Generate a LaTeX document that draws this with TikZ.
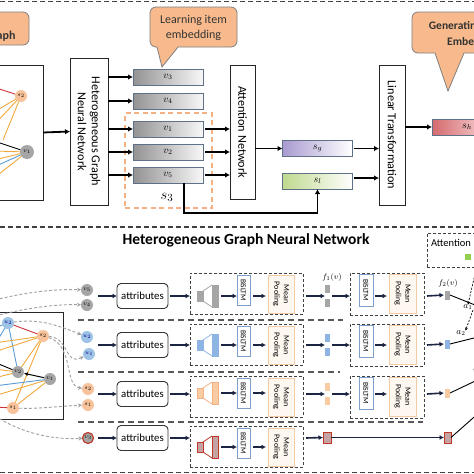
\documentclass[tikz,border=0pt]{standalone}
\usepackage{fontspec}
\setmainfont{Carlito}
\usetikzlibrary{arrows.meta}
\definecolor{callfill}{HTML}{F8BA8C}
\definecolor{callbord}{HTML}{7F7F7F}
\definecolor{odash}{HTML}{F4B183}
\definecolor{navy}{HTML}{1B2440}
\definecolor{gnode}{HTML}{A6A6A6}
\definecolor{onode}{HTML}{F8C39B}
\definecolor{bnode}{HTML}{9DC3E6}
\definecolor{redb}{HTML}{C0392B}
\definecolor{bisb}{HTML}{7C9FCB}
\definecolor{mpb}{HTML}{F4CBA5}
\definecolor{mpf}{HTML}{FFF8F1}
\definecolor{barb}{HTML}{5F7186}
\definecolor{eorange}{HTML}{F2A93B}
\definecolor{eblue}{HTML}{5B9BD5}
\definecolor{ered}{HTML}{D0343A}
\definecolor{sgl}{HTML}{A99AD0}
\definecolor{sll}{HTML}{BFD98E}
\definecolor{shl}{HTML}{D46A6E}
\definecolor{funf1}{HTML}{A6A6A6}
\definecolor{fune1}{HTML}{A6A6A6}
\definecolor{funf2}{HTML}{8EB4E3}
\definecolor{fune2}{HTML}{8EB4E3}
\definecolor{funf3}{HTML}{F8CBA2}
\definecolor{fune3}{HTML}{F4B183}
\definecolor{funf4}{HTML}{C4A4A2}
\definecolor{fune4}{HTML}{C0392B}
\definecolor{legg}{HTML}{92D050}
\definecolor{dgray}{HTML}{404040}
\definecolor{curvec}{HTML}{A0A0A0}
\begin{document}
\begin{tikzpicture}[x=1pt,y=-1pt,
  every node/.style={inner sep=0pt, outer sep=0pt},
  arr/.style={line width=1.8pt,-{Latex[length=5pt,width=5.5pt]}},
  narr/.style={navy,line width=1.6pt,-{Latex[length=4.5pt,width=5pt]}},
  callout/.style={fill=callfill,draw=callbord,line width=0.8pt},
  calltext/.style={text=black!80,align=center,font=\fontsize{12}{15}\selectfont},
  bar/.style={draw=barb,line width=0.6pt,minimum width=70pt,minimum height=16pt,font=\fontsize{10}{10}\selectfont},
  graybar/.style={bar,left color=gray!85,right color=gray!6},
  vbox/.style={draw=black!85,line width=0.8pt,fill=white,rotate=-90,align=center,font=\fontsize{12.2}{14}\selectfont},
  gnd/.style={circle,minimum size=12pt,font=\fontsize{6.5}{6.5}\selectfont},
  mainsep/.style={dgray,line width=1.6pt,dash pattern=on 5pt off 3pt},
  rowsep/.style={black!65,line width=1.3pt,dash pattern=on 6pt off 4pt},
  modbox/.style={draw=dgray,line width=0.8pt,dash pattern=on 3pt off 2pt},
  bisbox/.style={draw=bisb,line width=0.8pt,fill=white,rotate=-90,minimum height=13pt,font=\fontsize{7.5}{8}\selectfont},
  mpbox/.style={draw=mpb,line width=0.8pt,fill=mpf,rotate=-90,align=center,font=\fontsize{8}{9.5}\selectfont},
  attr/.style={draw=black!80,line width=0.9pt,rounded corners=4pt,minimum width=51pt,minimum height=25pt,font=\fontsize{10.8}{12}\selectfont},
  dcurve/.style={curvec,line width=0.9pt,dash pattern=on 3pt off 2pt,-{Stealth[length=4pt,width=4pt]}},
  gedge/.style={line width=0.9pt}
]
\useasboundingbox (0,0) rectangle (474,474);
\clip (0,0) rectangle (474,474);
\fill[white] (0,0) rectangle (474,474);

% panel separators
\draw[mainsep] (0,1.5) -- (474,1.5);
\draw[mainsep] (0,227) -- (474,227);
\draw[mainsep] (0,472.5) -- (474,472.5);

% ================= TOP PANEL =================
% left callout
\draw[callout,rounded corners=6pt] (-60,12) rectangle (29,45);
\node[calltext,anchor=east,font=\fontsize{12}{15}\selectfont\bfseries] (cl) at (15.5,36) {Graph};

% learning item callout
\draw[callout] (157,47) -- (162,67) -- (178,47) [rounded corners=6pt] -- (237,47) -- (237,7) -- (150,7) -- (150,47) [sharp corners] -- cycle;
\node[calltext] (cm) at (193.5,28) {Learning item\\embedding};

% generating callout
\draw[callout] (435,53) -- (448,91) -- (464,53) [rounded corners=6pt] -- (540,53) -- (540,12) -- (412,12) -- (412,53) [sharp corners] -- cycle;
\node[calltext,font=\fontsize{11.5}{16}\selectfont\bfseries] (cr) at (474,34) {Generating session\\Embedding};

% graph box (top)
\node[draw=black!85,line width=0.8pt,minimum width=93pt,minimum height=135pt] (gtop) at (-3.5,132.5) {};
\node[gnd,fill=onode] (ts2) at (21,96) {$s_2$};
\node[gnd,fill=gnode,minimum size=14pt] (tv1) at (27,152) {$v_1$};
\coordinate (ta) at (-10,86);
\coordinate (tb) at (-6,112);
\coordinate (tc) at (-6,125);
\coordinate (td) at (3,140);
\coordinate (te) at (-6,141);
\coordinate (tf) at (-6,151);
\coordinate (tg) at (-6,160);
\coordinate (th) at (-6,167);
\coordinate (ti) at (-6,178);
\draw[gedge,ered] (ta) -- (ts2);
\draw[gedge,eorange] (ts2) -- (tb);
\draw[gedge,eorange] (ts2) -- (tc);
\draw[gedge,eorange] (ts2) -- (td);
\draw[gedge,black] (te) -- (tv1);
\draw[gedge,eorange] (tf) -- (tv1);
\draw[gedge,eorange] (tg) -- (tv1);
\draw[gedge,eblue] (th) -- (tv1);
\draw[gedge,eorange] (ti) -- (tv1);

% HGNN box
\node[vbox,minimum width=147pt,minimum height=38pt] (hgnn) at (89,131.5) {Heterogeneous Graph\\Neural Network};
\draw[arr] (gtop.east) -- (hgnn.south);

% dashed orange group
\node[draw=odash,line width=1.3pt,dash pattern=on 5pt off 3.5pt,minimum width=87pt,minimum height=95pt] (grp) at (168.5,160.5) {};
\node[font=\fontsize{15}{15}\selectfont] (s3) at (167,197) {$s_3$};

% embedding bars
\node[graybar] (v3) at (168,77) {$v_3$};
\node[graybar] (v4) at (168,101) {$v_4$};
\node[graybar] (v1) at (168,129) {$v_1$};
\node[graybar] (v2) at (168,152) {$v_2$};
\node[graybar] (v5) at (168,175) {$v_5$};
\foreach \v in {v3,v4,v1,v2,v5} {
  \draw[arr] (hgnn.north |- \v.west) -- (\v.west);
}

% attention network
\node[vbox,minimum width=134pt,minimum height=25pt] (att) at (242.5,132) {Attention Network};
\foreach \v in {v1,v2,v5} {
  \draw[arr] ([xshift=2pt]\v.east) -- (att.south |- \v.east);
}

% s_g, s_l
\node[bar,left color=sgl,right color=white] (sg) at (317.5,148.5) {$s_g$};
\node[bar,left color=sll,right color=white] (sl) at (317.5,181) {$s_l$};
\draw[arr] (att.north |- sg.west) -- (sg.west);
\draw[arr] ([xshift=16pt]v5.south) -- ++(0,30) -| (sl.south);

% linear transformation
\node[vbox,minimum width=140pt,minimum height=26pt] (lt) at (392,135) {Linear Transformation};
\coordinate (slo) at ([xshift=1pt,yshift=3pt]sl.east);
\draw[arr] ([xshift=1pt]sg.east) -- (lt.south |- sg.east);
\draw[arr] (slo) -- (lt.south |- slo);

% s_h
\node[bar,left color=shl,right color=red!8] (sh) at (467,127) {$s_h$};
\draw[arr] (lt.north |- sh.west) -- (sh.west);

% ================= BOTTOM PANEL =================
\node[font=\fontsize{15.5}{16}\selectfont\bfseries] (title) at (246,240) {Heterogeneous Graph Neural Network};

% legend
\node[modbox,minimum width=70pt,minimum height=34pt] (leg) at (462,250) {};
\node[anchor=west,font=\fontsize{10.5}{12}\selectfont] (legt) at (431,243) {Attention Network};
\node[fill=legg,minimum size=6pt] (legsq) at (468,257) {};

% graph box (bottom)
\node[draw=black!85,line width=0.9pt,minimum width=113pt,minimum height=107pt] (gbot) at (6.5,365.5) {};
\node[gnd,fill=bnode,text=blue!50!black] (u2g) at (8,323) {$u_2$};
\node[gnd,fill=onode] (s2g) at (43,336) {$s_2$};
\node[gnd,fill=gnode] (v2g) at (18,372) {$v_2$};
\node[gnd,fill=gnode] (v1g) at (50,379) {$v_1$};
\node[gnd,fill=onode] (s1g) at (13,408) {$s_1$};
\coordinate (ga) at (-6,328);
\coordinate (gb) at (-6,343);
\coordinate (gc) at (-6,352);
\coordinate (ge) at (-6,362);
\coordinate (gf) at (-6,378);
\coordinate (gg) at (-6,396);
\coordinate (gh) at (-6,386);
\coordinate (gi) at (-6,407);
\coordinate (gk) at (-6,346);
\coordinate (gl) at (-6,369);
\draw[gedge,ered] (u2g) -- (s2g);
\draw[gedge,eblue] (ga) -- (u2g);
\draw[gedge,eblue] (u2g) -- (gk);
\draw[gedge,eblue] (u2g) -- (v2g);
\draw[gedge,eorange] (gb) -- (s2g);
\draw[gedge,eorange] (gc) -- (s2g);
\draw[gedge,eorange] (s2g) -- (v2g);
\draw[gedge,eorange] (s2g) -- (s1g);
\draw[gedge,black] (ge) -- (v2g);
\draw[gedge,eorange] (gl) -- (v2g);
\draw[gedge,eorange] (v2g) -- (gf);
\draw[gedge,eorange] (gg) -- (v1g);
\draw[gedge,eblue] (gh) -- (v1g);
\draw[gedge,eorange] (s1g) -- (v1g);
\draw[gedge,ered] (gi) -- (s1g);
\draw[line width=1pt,-{Latex[length=4pt,width=4pt]}] (v1g) -- (v2g);

% column nodes
\node[gnd,fill=gnode] (v5c) at (87,290) {$v_5$};
\node[gnd,fill=gnode] (v4c) at (87,305) {$v_4$};
\node[gnd,fill=bnode,text=blue!50!black] (u2c) at (87,337) {$u_2$};
\node[gnd,fill=bnode,text=blue!50!black] (u1c) at (89,354) {$u_1$};
\node[gnd,fill=onode] (s2c) at (88,389) {$s_2$};
\node[gnd,fill=onode] (s1c) at (88,405) {$s_1$};
\node[gnd,fill=gnode,draw=redb,line width=1.2pt,minimum size=11pt] (v3c) at (88,438) {$v_3$};

% dashed curves
\coordinate (ka) at (-5,300);
\coordinate (kb) at (-5,316);
\coordinate (kc) at (-5,416);
\draw[dcurve] (ka) .. controls (30,291) and (60,289) .. (v5c);
\draw[dcurve] (kb) .. controls (30,307) and (60,304) .. (v4c);
\draw[dcurve] (u2g) .. controls (40,318) and (62,327) .. (u2c);
\draw[dcurve] (s2g) .. controls (70,338) and (64,366) .. (u1c);
\draw[dcurve] (s2g) .. controls (74,345) and (64,386) .. (s2c);
\draw[dcurve] (s1g) .. controls (40,409) and (60,406) .. (s1c);
\draw[dcurve] (kc) .. controls (20,432) and (50,440) .. (v3c);

% row separators
\draw[rowsep] (78,320) -- (343,320);
\draw[rowsep] (78,372) -- (340,372);
\draw[rowsep] (78,422) -- (423,422);

% rows
\foreach \i/\c/\t/\f in {1/296/273/296,2/345/324/345,3/394/376/393,4/438/426/447} {
  \node[attr] (at\i) at (142.5,\c) {attributes};
  \coordinate (cs\i) at (98,\c);
  \draw[narr] (cs\i) -- (at\i.west);
  \node[modbox,minimum width=113pt,minimum height=41pt] (mA\i) at (246.5,\t+20.5) {};
  \draw[narr] ([xshift=2pt]at\i.east) -- (mA\i.west |- at\i.east);
  % funnel
  \filldraw[fill=funf\i,draw=fune\i,line width=0.8pt] (197,\f-5) rectangle (203,\f+5);
  \draw[fune\i,line width=0.8pt] (203,\f-5) -- (212,\f-11) (203,\f+5) -- (212,\f+11);
  \filldraw[fill=funf\i,draw=fune\i,line width=0.8pt] (212,\f-11) rectangle (218,\f+11);
  \coordinate (fo\i) at (221,\f);
  \node[bisbox,minimum width=30pt] (bA\i) at (243.5,\t+17) {BiSLTM};
  \draw[narr] (fo\i) -- (bA\i.south |- fo\i);
  \node[mpbox,minimum width=38pt,minimum height=26pt] (pA\i) at (281,\t+21) {Mean\\Pooling};
  \draw[narr] ([xshift=3pt]bA\i.north |- fo\i) -- ([xshift=-2pt]pA\i.south |- fo\i);
}

% f1 vectors, second modules, f2 vectors
\foreach \i/\c/\t in {1/296/273,2/345/324,3/394/376} {
  \node[minimum width=5pt,minimum height=22pt] (vA\i) at (327.5,\c) {};
  \fill[funf\i] (325,\c-11) rectangle (330,\c-3);
  \fill[funf\i] (325,\c+3) rectangle (330,\c+11);
  \draw[narr] ([xshift=3pt]mA\i.east |- at\i.east) -- (vA\i.west);
  \node[modbox,minimum width=74pt,minimum height=42pt] (mB\i) at (387,\t+21) {};
  \draw[narr] ([xshift=2pt]vA\i.east) -- (mB\i.west |- vA\i.east);
  \node[bisbox,minimum width=32pt,minimum height=14pt] (bB\i) at (366,\t+17) {BiSLTM};
  \node[mpbox,minimum width=39pt,minimum height=27pt] (pB\i) at (402.5,\t+20.5) {Mean\\Pooling};
  \draw[narr] ([xshift=2pt]bB\i.north |- vA\i.east) -- ([xshift=-2pt]pB\i.south |- vA\i.east);
  \node[fill=funf\i,minimum width=5pt,minimum height=9pt] (fB\i) at (447.5,\c-1) {};
  \draw[narr] ([xshift=3pt]mB\i.east |- vA\i.east) -- ([xshift=-1pt]fB\i.west);
}
% row 4 vectors
\node[fill=funf4,draw=fune4,line width=0.9pt,minimum width=8pt,minimum height=11pt] (vA4) at (327,437.5) {};
\node[fill=funf4,draw=fune4,line width=0.9pt,minimum width=7pt,minimum height=11pt] (fB4) at (447.5,437.5) {};
\draw[narr] ([xshift=3pt]mA4.east |- at4.east) -- (vA4.west);
\draw[narr] (vA4.east) -- (fB4.west);

% labels f1 f2
\node[font=\fontsize{8.5}{9}\selectfont] (lf1) at (332,277) {$f_1(v)$};
\node[font=\fontsize{8.5}{9}\selectfont] (lf2) at (448,283) {$f_2(v)$};

% lines to attention
\coordinate (r1) at (490,311);
\coordinate (r2) at (490,334);
\coordinate (r3) at (490,374);
\coordinate (r4) at (490,403);
\draw[line width=0.9pt] (fB1.east) -- (r1);
\draw[line width=0.9pt] (fB2.east) -- (r2);
\draw[line width=0.9pt] (fB3.east) -- (r3);
\draw[line width=0.9pt] (fB4.east) -- (r4);
\node[font=\fontsize{9}{9}\selectfont] (a1) at (468,307) {$a_1$};
\node[font=\fontsize{9}{9}\selectfont] (a2) at (461,333) {$a_2$};
\node[font=\fontsize{9}{9}\selectfont] (a3) at (478,370) {$a_3$};
\coordinate (da) at (475,274);
\coordinate (db) at (473,310);
\draw[line width=0.7pt,dash pattern=on 2pt off 1.5pt,-{Stealth[length=3pt,width=3pt]}] (da) -- (a1.north);
\draw[line width=0.7pt,dash pattern=on 2pt off 1.5pt,-{Stealth[length=3pt,width=3pt]}] (db) -- (a2.north east);
\end{tikzpicture}
\end{document}
